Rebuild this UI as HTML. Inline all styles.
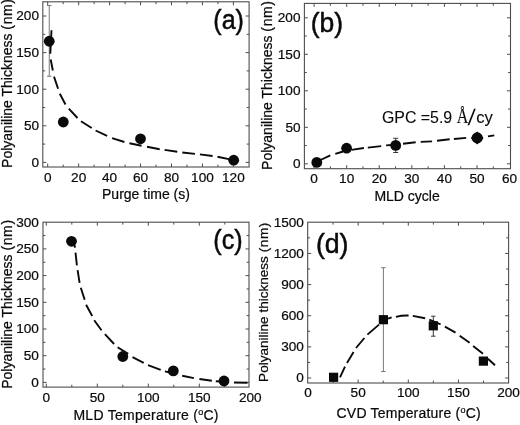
<!DOCTYPE html>
<html><head><meta charset="utf-8"><title>Polyaniline thickness plots</title>
<style>
html,body{margin:0;padding:0;background:#fff;}
svg{display:block;font-family:'Liberation Sans', Arial, sans-serif;fill:#0a0a0a;}
text{stroke:#0a0a0a;stroke-width:0.22px;}
</style></head><body>
<svg width="520" height="425" viewBox="0 0 520 425">
<rect width="520" height="425" fill="#fff"/>
<rect x="42.8" y="1.8" width="206.3" height="165.2" fill="none" stroke="#4d4d4d" stroke-width="1.1"/>
<path d="M47.70 167.0v-3.5M47.70 1.8v3.5M78.65 167.0v-3.5M78.65 1.8v3.5M109.60 167.0v-3.5M109.60 1.8v3.5M140.55 167.0v-3.5M140.55 1.8v3.5M171.50 167.0v-3.5M171.50 1.8v3.5M202.45 167.0v-3.5M202.45 1.8v3.5M233.40 167.0v-3.5M233.40 1.8v3.5M63.18 167.0v-2.4M63.18 1.8v2.4M94.12 167.0v-2.4M94.12 1.8v2.4M125.08 167.0v-2.4M125.08 1.8v2.4M156.03 167.0v-2.4M156.03 1.8v2.4M186.98 167.0v-2.4M186.98 1.8v2.4M217.93 167.0v-2.4M217.93 1.8v2.4M42.8 162.40h3.5M249.1 162.40h-3.5M42.8 125.80h3.5M249.1 125.80h-3.5M42.8 89.20h3.5M249.1 89.20h-3.5M42.8 52.60h3.5M249.1 52.60h-3.5M42.8 16.00h3.5M249.1 16.00h-3.5M42.8 144.10h2.4M249.1 144.10h-2.4M42.8 107.50h2.4M249.1 107.50h-2.4M42.8 70.90h2.4M249.1 70.90h-2.4M42.8 34.30h2.4M249.1 34.30h-2.4" stroke="#4d4d4d" stroke-width="1" fill="none"/>
<text x="47.70" y="181.9" text-anchor="middle" font-size="13.6">0</text>
<text x="78.65" y="181.9" text-anchor="middle" font-size="13.6">20</text>
<text x="109.60" y="181.9" text-anchor="middle" font-size="13.6">40</text>
<text x="140.55" y="181.9" text-anchor="middle" font-size="13.6">60</text>
<text x="171.50" y="181.9" text-anchor="middle" font-size="13.6">80</text>
<text x="202.45" y="181.9" text-anchor="middle" font-size="13.6">100</text>
<text x="233.40" y="181.9" text-anchor="middle" font-size="13.6">120</text>
<text x="39.0" y="166.70" text-anchor="end" font-size="13.6">0</text>
<text x="39.0" y="130.10" text-anchor="end" font-size="13.6">50</text>
<text x="39.0" y="93.50" text-anchor="end" font-size="13.6">100</text>
<text x="39.0" y="56.90" text-anchor="end" font-size="13.6">150</text>
<text x="39.0" y="20.30" text-anchor="end" font-size="13.6">200</text>
<path d="M49.25 5.50V76.25M47.05 5.50h4.4M47.05 76.25h4.4" stroke="#6a6a6a" stroke-width="0.9" fill="none"/>
<path d="M51.50 30.20L50.30 53.80M50.70 59.50L52.85 70.50M54.00 76.60L58.10 88.80M59.80 93.80L65.50 104.50M68.80 108.60L77.50 118.00M81.00 121.20L91.70 128.00M95.60 130.50L107.10 135.90M112.10 138.20L124.40 142.00M129.40 143.20L141.60 145.80M147.00 146.80L159.70 149.20M164.60 149.90L177.30 151.75M182.30 152.50L195.00 153.90M199.90 154.35L212.60 156.00M217.50 156.75L230.00 159.40" stroke="#0a0a0a" stroke-width="1.9" fill="none" stroke-linecap="butt"/>
<circle cx="49.25" cy="41.25" r="5.4" fill="#0a0a0a"/>
<circle cx="63.30" cy="122.00" r="5.4" fill="#0a0a0a"/>
<circle cx="140.50" cy="138.80" r="5.4" fill="#0a0a0a"/>
<circle cx="233.70" cy="160.20" r="5.4" fill="#0a0a0a"/>
<text transform="translate(12.4 167.9) rotate(-90)" font-size="14">Polyaniline Thickness <tspan letter-spacing="0.6">(nm)</tspan></text>
<text x="146" y="198.6" text-anchor="middle" font-size="14">Purge time (s)</text>
<text x="213.3" y="28.6" font-size="27" textLength="30.6" lengthAdjust="spacingAndGlyphs" style="stroke-width:0.5px">(a)</text>
<rect x="304.4" y="3.4" width="206.10000000000002" height="165.29999999999998" fill="none" stroke="#4d4d4d" stroke-width="1.1"/>
<path d="M314.10 168.7v-3.5M314.10 3.4v3.5M346.68 168.7v-3.5M346.68 3.4v3.5M379.26 168.7v-3.5M379.26 3.4v3.5M411.84 168.7v-3.5M411.84 3.4v3.5M444.42 168.7v-3.5M444.42 3.4v3.5M477.00 168.7v-3.5M477.00 3.4v3.5M330.39 168.7v-2.4M330.39 3.4v2.4M362.97 168.7v-2.4M362.97 3.4v2.4M395.55 168.7v-2.4M395.55 3.4v2.4M428.13 168.7v-2.4M428.13 3.4v2.4M460.71 168.7v-2.4M460.71 3.4v2.4M493.29 168.7v-2.4M493.29 3.4v2.4M304.4 163.80h3.5M510.5 163.80h-3.5M304.4 127.30h3.5M510.5 127.30h-3.5M304.4 90.80h3.5M510.5 90.80h-3.5M304.4 54.30h3.5M510.5 54.30h-3.5M304.4 17.80h3.5M510.5 17.80h-3.5M304.4 145.55h2.4M510.5 145.55h-2.4M304.4 109.05h2.4M510.5 109.05h-2.4M304.4 72.55h2.4M510.5 72.55h-2.4M304.4 36.05h2.4M510.5 36.05h-2.4" stroke="#4d4d4d" stroke-width="1" fill="none"/>
<text x="314.10" y="183.1" text-anchor="middle" font-size="13.6">0</text>
<text x="346.68" y="183.1" text-anchor="middle" font-size="13.6">10</text>
<text x="379.26" y="183.1" text-anchor="middle" font-size="13.6">20</text>
<text x="411.84" y="183.1" text-anchor="middle" font-size="13.6">30</text>
<text x="444.42" y="183.1" text-anchor="middle" font-size="13.6">40</text>
<text x="477.00" y="183.1" text-anchor="middle" font-size="13.6">50</text>
<text x="509.58" y="183.1" text-anchor="middle" font-size="13.6">60</text>
<text x="300.5" y="168.10" text-anchor="end" font-size="13.6">0</text>
<text x="300.5" y="131.60" text-anchor="end" font-size="13.6">50</text>
<text x="300.5" y="95.10" text-anchor="end" font-size="13.6">100</text>
<text x="300.5" y="58.60" text-anchor="end" font-size="13.6">150</text>
<text x="300.5" y="22.10" text-anchor="end" font-size="13.6">200</text>
<path d="M395.70 138.30V152.50M393.20 138.30h5.0M393.20 152.50h5.0" stroke="#222" stroke-width="0.9" fill="none"/>
<path d="M320.50 160.00L330.30 155.30M335.30 153.90L343.00 151.50M351.50 149.90L363.90 148.00M367.80 147.60L381.20 146.10M386.10 145.40L392.00 145.00M403.00 143.70L415.70 142.30M420.70 141.90L432.10 141.40M437.00 140.80L449.70 139.30M453.90 139.00L466.20 137.90M488.00 136.40L494.30 135.40" stroke="#0a0a0a" stroke-width="1.9" fill="none" stroke-linecap="butt"/>
<circle cx="316.80" cy="162.40" r="5.4" fill="#0a0a0a"/>
<circle cx="346.60" cy="148.20" r="5.4" fill="#0a0a0a"/>
<circle cx="395.70" cy="145.40" r="5.4" fill="#0a0a0a"/>
<circle cx="477.20" cy="137.90" r="5.6" fill="#0a0a0a"/>
<path d="M477.2 131.4L483.6 137.9L477.2 144.4L470.8 137.9Z" fill="#0a0a0a"/>
<text transform="translate(272.4 169.9) rotate(-90)" font-size="14">Polyaniline Thickness <tspan letter-spacing="0.6">(nm)</tspan></text>
<text x="407.1" y="200.7" text-anchor="middle" font-size="14">MLD cycle</text>
<text x="310.7" y="32.1" font-size="27" textLength="32.4" lengthAdjust="spacingAndGlyphs" style="stroke-width:0.5px">(b)</text>
<text x="381.9" y="122.7" font-size="16.6" textLength="70.3" lengthAdjust="spacingAndGlyphs" style="stroke-width:0.1px">GPC =5.9</text>
<text x="456.7" y="122.7" font-size="22" font-family="'Liberation Serif', serif" textLength="11.6" lengthAdjust="spacingAndGlyphs" style="stroke-width:0.15px">Å</text>
<text transform="translate(467.4 125) skewX(-7)" font-size="22.5" style="stroke-width:0">/</text>
<text x="476.2" y="122.8" font-size="16.6" style="stroke-width:0.1px">cy</text>
<rect x="43.0" y="222.2" width="206.0" height="164.90000000000003" fill="none" stroke="#4d4d4d" stroke-width="1.1"/>
<path d="M46.30 387.1v-3.5M46.30 222.2v3.5M97.30 387.1v-3.5M97.30 222.2v3.5M148.30 387.1v-3.5M148.30 222.2v3.5M199.30 387.1v-3.5M199.30 222.2v3.5M71.80 387.1v-2.4M71.80 222.2v2.4M122.80 387.1v-2.4M122.80 222.2v2.4M173.80 387.1v-2.4M173.80 222.2v2.4M224.80 387.1v-2.4M224.80 222.2v2.4M43.0 382.40h3.5M249.0 382.40h-3.5M43.0 355.70h3.5M249.0 355.70h-3.5M43.0 329.00h3.5M249.0 329.00h-3.5M43.0 302.30h3.5M249.0 302.30h-3.5M43.0 275.60h3.5M249.0 275.60h-3.5M43.0 248.90h3.5M249.0 248.90h-3.5M43.0 369.05h2.4M249.0 369.05h-2.4M43.0 342.35h2.4M249.0 342.35h-2.4M43.0 315.65h2.4M249.0 315.65h-2.4M43.0 288.95h2.4M249.0 288.95h-2.4M43.0 262.25h2.4M249.0 262.25h-2.4M43.0 235.55h2.4M249.0 235.55h-2.4" stroke="#4d4d4d" stroke-width="1" fill="none"/>
<text x="46.30" y="402.1" text-anchor="middle" font-size="13.6">0</text>
<text x="97.30" y="402.1" text-anchor="middle" font-size="13.6">50</text>
<text x="148.30" y="402.1" text-anchor="middle" font-size="13.6">100</text>
<text x="199.30" y="402.1" text-anchor="middle" font-size="13.6">150</text>
<text x="250.30" y="402.1" text-anchor="middle" font-size="13.6">200</text>
<text x="38.9" y="386.70" text-anchor="end" font-size="13.6">0</text>
<text x="38.9" y="360.00" text-anchor="end" font-size="13.6">50</text>
<text x="38.9" y="333.30" text-anchor="end" font-size="13.6">100</text>
<text x="38.9" y="306.60" text-anchor="end" font-size="13.6">150</text>
<text x="38.9" y="279.90" text-anchor="end" font-size="13.6">200</text>
<text x="38.9" y="253.20" text-anchor="end" font-size="13.6">250</text>
<text x="38.9" y="226.50" text-anchor="end" font-size="13.6">300</text>
<path d="M73.80 243.50L75.20 247.60M75.50 252.60L76.90 265.30M77.60 270.20L79.60 282.90M80.80 287.80L84.70 299.80M86.10 304.70L92.20 316.00M94.20 320.20L101.50 330.30M104.90 334.20L114.10 344.00M117.60 347.20L128.20 353.90M132.50 357.20L143.70 362.80M148.00 365.20L160.70 369.90M164.90 371.30L170.00 372.50M182.20 375.70L193.90 378.10M199.40 379.00L211.90 380.80M215.80 381.20L221.00 381.50M234.00 382.50L247.50 382.70" stroke="#0a0a0a" stroke-width="1.9" fill="none" stroke-linecap="butt"/>
<circle cx="71.50" cy="241.30" r="5.4" fill="#0a0a0a"/>
<circle cx="122.80" cy="356.50" r="5.4" fill="#0a0a0a"/>
<circle cx="173.30" cy="370.90" r="5.4" fill="#0a0a0a"/>
<circle cx="224.00" cy="381.00" r="5.4" fill="#0a0a0a"/>
<text transform="translate(11.8 388.8) rotate(-90)" font-size="14">Polyaniline Thickness <tspan letter-spacing="0.6">(nm)</tspan></text>
<text x="146.1" y="419.7" text-anchor="middle" font-size="14" letter-spacing="0.26">MLD Temperature (<tspan font-size="9" dy="-5.2">o</tspan><tspan dy="5.2">C)</tspan></text>
<text x="213.3" y="249.4" font-size="27" textLength="29.4" lengthAdjust="spacingAndGlyphs" style="stroke-width:0.5px">(c)</text>
<rect x="307.7" y="222.2" width="200.90000000000003" height="160.8" fill="none" stroke="#4d4d4d" stroke-width="1.1"/>
<path d="M358.15 383.0v-3.5M358.15 222.2v3.5M408.30 383.0v-3.5M408.30 222.2v3.5M458.45 383.0v-3.5M458.45 222.2v3.5M333.07 383.0v-2.4M333.07 222.2v2.4M383.23 383.0v-2.4M383.23 222.2v2.4M433.38 383.0v-2.4M433.38 222.2v2.4M483.52 383.0v-2.4M483.52 222.2v2.4M307.7 378.00h3.5M508.6 378.00h-3.5M307.7 346.86h3.5M508.6 346.86h-3.5M307.7 315.72h3.5M508.6 315.72h-3.5M307.7 284.58h3.5M508.6 284.58h-3.5M307.7 253.44h3.5M508.6 253.44h-3.5M307.7 362.43h2.4M508.6 362.43h-2.4M307.7 331.29h2.4M508.6 331.29h-2.4M307.7 300.15h2.4M508.6 300.15h-2.4M307.7 269.01h2.4M508.6 269.01h-2.4M307.7 237.87h2.4M508.6 237.87h-2.4" stroke="#4d4d4d" stroke-width="1" fill="none"/>
<text x="308.00" y="397.3" text-anchor="middle" font-size="13.6">0</text>
<text x="358.15" y="397.3" text-anchor="middle" font-size="13.6">50</text>
<text x="408.30" y="397.3" text-anchor="middle" font-size="13.6">100</text>
<text x="458.45" y="397.3" text-anchor="middle" font-size="13.6">150</text>
<text x="508.60" y="397.3" text-anchor="middle" font-size="13.6">200</text>
<text x="303.9" y="382.30" text-anchor="end" font-size="13.6">0</text>
<text x="303.9" y="351.16" text-anchor="end" font-size="13.6">300</text>
<text x="303.9" y="320.02" text-anchor="end" font-size="13.6">600</text>
<text x="303.9" y="288.88" text-anchor="end" font-size="13.6">900</text>
<text x="303.9" y="257.74" text-anchor="end" font-size="13.6">1200</text>
<text x="303.9" y="226.60" text-anchor="end" font-size="13.6">1500</text>
<path d="M383.40 267.70V371.50M381.20 267.70h4.4M381.20 371.50h4.4" stroke="#6a6a6a" stroke-width="0.9" fill="none"/>
<path d="M433.30 316.20V336.20M431.10 316.20h4.4M431.10 336.20h4.4" stroke="#222" stroke-width="0.9" fill="none"/>
<path d="M340.00 377.40L345.00 366.60M347.00 363.00L353.60 352.00M356.00 348.00L364.40 338.00M367.40 334.60L379.00 324.60M388.10 318.70L391.65 317.30M395.90 316.90Q402.30 315.20 408.60 315.50M412.80 315.90L425.10 318.30M429.30 319.70L440.60 324.30M444.90 326.65L455.50 332.60M459.70 335.70L469.60 342.70M473.10 346.00L483.00 353.75M487.90 358.70L495.00 365.30" stroke="#0a0a0a" stroke-width="1.9" fill="none" stroke-linecap="butt"/>
<rect x="329.00" y="372.70" width="9.2" height="9.2" fill="#0a0a0a"/>
<rect x="378.80" y="315.10" width="9.2" height="9.2" fill="#0a0a0a"/>
<rect x="428.70" y="321.20" width="9.2" height="9.2" fill="#0a0a0a"/>
<rect x="478.80" y="356.50" width="9.2" height="9.2" fill="#0a0a0a"/>
<text transform="translate(268.3 381.9) rotate(-90)" font-size="13.55">Polyaniline thickness <tspan letter-spacing="0.6">(nm)</tspan></text>
<text x="408.7" y="417.7" text-anchor="middle" font-size="14" letter-spacing="0.21">CVD Temperature (<tspan font-size="9" dy="-5.2">o</tspan><tspan dy="5.2">C)</tspan></text>
<text x="315.9" y="252.8" font-size="27" textLength="32.6" lengthAdjust="spacingAndGlyphs" style="stroke-width:0.5px">(d)</text>
</svg>
</body></html>
